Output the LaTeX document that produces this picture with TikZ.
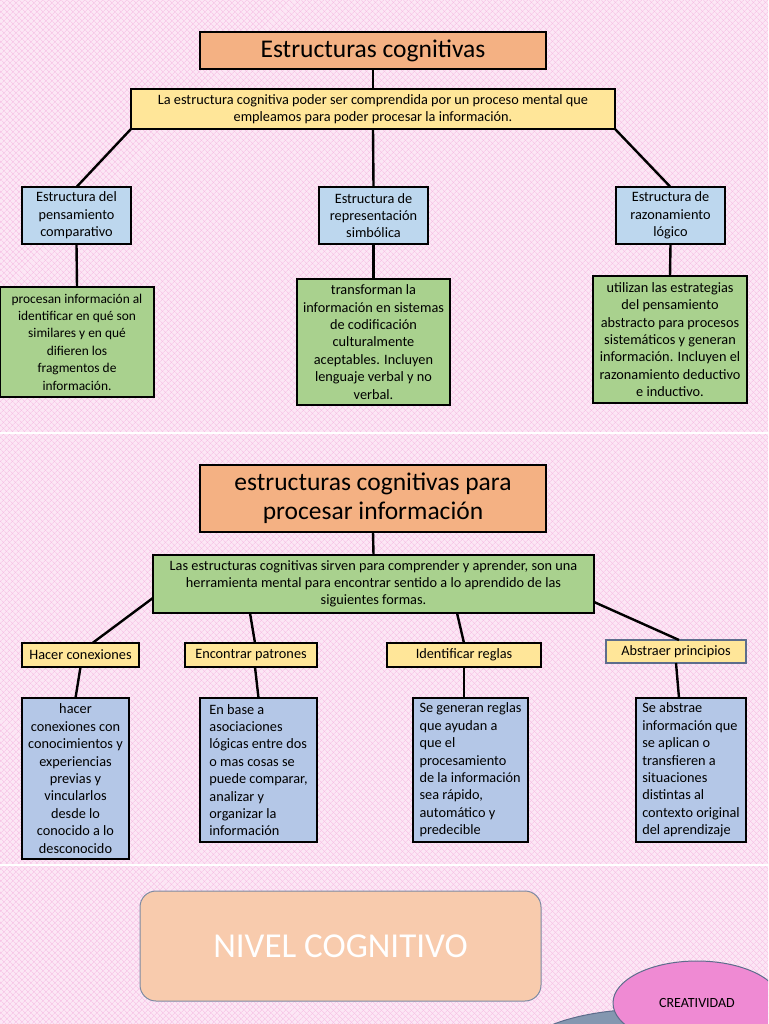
\documentclass[tikz,border=0pt]{standalone}
\usepackage{fontspec}
\setmainfont{Carlito}
\usetikzlibrary{positioning,calc,shapes.geometric,patterns.meta}
\definecolor{cBack}{HTML}{FCE7F5}
\definecolor{cHatch}{HTML}{F6BCE3}
\definecolor{cOrange}{HTML}{F4B183}
\definecolor{cYellow}{HTML}{FFE699}
\definecolor{cSky}{HTML}{BDD7EE}
\definecolor{cGreen}{HTML}{A9D18E}
\definecolor{cBlue}{HTML}{B4C7E7}
\definecolor{cPeach}{HTML}{F8CBAD}
\definecolor{cPink}{HTML}{EF8AD3}
\definecolor{cSlate}{HTML}{8497B0}
\definecolor{cEdge}{HTML}{5D6D8C}
\tikzset{LINE/.style={line width=2.4pt, black}}
\tikzset{BOX/.style={rectangle, draw=black, line width=2.2pt, inner sep=0pt, outer sep=0pt, align=center, text=black, font=\fontsize{14.3}{17.4}\selectfont}}
\tikzset{TITLE/.style={BOX, fill=cOrange, font=\fontsize{25.5}{29}\selectfont}}
\tikzset{SUMMARY/.style={BOX, font=\fontsize{14.3}{17}\selectfont}}
\tikzset{BRANCH/.style={BOX, fill=cSky}}
\tikzset{DETAIL/.style={BOX, fill=cGreen}}
\tikzset{LABEL/.style={BOX, fill=cYellow}}
\tikzset{NOTE/.style={BOX, fill=cBlue}}

\begin{document}
\begin{tikzpicture}[x=1pt,y=-1pt]
    \useasboundingbox (0,0) rectangle (768,1024);
    \clip (0,0) rectangle (768,1024);
    % background
    \fill[cBack] (0,0) rectangle (768,1024);
    \fill[pattern={Lines[angle=45,distance=4pt,line width=0.5pt]}, pattern color=cHatch] (0,0) rectangle (768,1024);
    \fill[pattern={Lines[angle=-45,distance=4pt,line width=0.5pt]}, pattern color=cHatch] (0,0) rectangle (768,1024);
    \draw[white, line width=1.2pt] (0,433) -- (768,433);
    \draw[white, line width=1.2pt] (0,865) -- (768,865);

    % first map
    \node[TITLE, minimum width=346, minimum height=37] (n_title1) at (373,50.5) {Estructuras cognitivas};
    \node[SUMMARY, fill=cYellow, minimum width=484, minimum height=40] (n_sum1) at (373,109) {
        La estructura cognitiva poder ser comprendida por un proceso mental que\\
        empleamos para poder procesar la información.};

    \node[BRANCH, minimum width=109, minimum height=57] (n_b1) at (76.5,215.5) {Estructura del\\pensamiento\\comparativo};
    \node[BRANCH, minimum width=109, minimum height=57] (n_b2) at (373.5,215.5) {Estructura de\\representación\\simbólica};
    \node[BRANCH, minimum width=109, minimum height=57] (n_b3) at (670.5,215.5) {Estructura de\\razonamiento\\lógico};

    \node[DETAIL, font=\fontsize{13.4}{17.4}\selectfont, minimum width=154, minimum height=110] (n_g1) at (77,342) {
        procesan información al\\identificar en qué son\\similares y en qué\\difieren los\\fragmentos de\\información.};
    \node[DETAIL, minimum width=153, minimum height=126] (n_g2) at (373.5,342) {
        transforman la\\información en sistemas\\de codificación\\culturalmente\\aceptables. Incluyen\\lenguaje verbal y no\\verbal.};
    \node[DETAIL, minimum width=154, minimum height=127] (n_g3) at (670,339.5) {
        utilizan las estrategias\\del pensamiento\\abstracto para procesos\\sistemáticos y generan\\información. Incluyen el\\razonamiento deductivo\\e inductivo.};

    \draw[LINE] (n_title1.south) -- (n_sum1.north);
    \draw[LINE] (n_sum1.south west) -- (n_b1.north);
    \draw[LINE] (n_sum1.south) -- (n_b2.north);
    \draw[LINE] (n_sum1.south east) -- (n_b3.north);
    \draw[LINE] (n_b1.south) -- (n_g1.north);
    \draw[LINE] (n_b2.south) -- (n_g2.north);
    \draw[LINE] (n_b3.south) -- (n_g3.north);

    % second map
    \node[TITLE, minimum width=346, minimum height=67] (n_title2) at (373,498.5) {estructuras cognitivas para\\procesar información};
    \node[SUMMARY, fill=cGreen, minimum width=441, minimum height=58] (n_sum2) at (373.5,584) {
        Las estructuras cognitivas sirven para comprender y aprender, son una\\
        herramienta mental para encontrar sentido a lo aprendido de las\\
        siguientes formas.};

    \node[LABEL, minimum width=117, minimum height=24] (n_lab1) at (80.5,655) {Hacer conexiones};
    \node[LABEL, minimum width=132, minimum height=24] (n_lab2) at (251,655) {Encontrar patrones};
    \node[LABEL, minimum width=154, minimum height=24] (n_lab3) at (464,655) {Identificar reglas};
    \node[LABEL, draw=cEdge, line width=1.4pt, minimum width=140, minimum height=23] (n_lab4) at (676,651.5) {Abstraer principios};

    \node[NOTE, minimum width=107, minimum height=161] (n_d1) at (75.5,778.5) {
        hacer\\conexiones con\\conocimientos y\\experiencias\\previas y\\vincularlos\\desde lo\\conocido a lo\\desconocido};
    \node[NOTE, align=left, minimum width=117, minimum height=144] (n_d2) at (258.5,770) {
        En base a\\asociaciones\\lógicas entre dos\\o mas cosas se\\puede comparar,\\analizar y\\organizar la\\información};
    \node[NOTE, align=left, minimum width=115, minimum height=144] (n_d3) at (470.5,770) {
        Se generan reglas\\que ayudan a\\que el\\procesamiento\\de la información\\sea rápido,\\automático y\\predecible};
    \node[NOTE, align=left, minimum width=110, minimum height=144] (n_d4) at (691,770) {
        Se abstrae\\información que\\se aplican o\\transfieren a\\situaciones\\distintas al\\contexto original\\del aprendizaje};

    \draw[LINE] (n_title2.south) -- (n_sum2.north);
    \draw[LINE] ($(n_sum2.south west)!0.26!(n_sum2.north west)$) -- ($(n_lab1.north)+(12,0)$);
    \draw[LINE] ($(n_sum2.south west)+(97,0)$) -- ($(n_lab2.north)+(4,0)$);
    \draw[LINE] ($(n_sum2.south west)+(304,0)$) -- (n_lab3.north);
    \draw[LINE] ($(n_sum2.south east)!0.19!(n_sum2.north east)$) -- ($(n_lab4.north)+(3,0)$);
    \draw[LINE] (n_lab1.south) -- (n_d1.north);
    \draw[LINE] ($(n_lab2.south)+(4,0)$) -- (n_d2.north);
    \draw[LINE] (n_lab3.south) -- (n_lab3.south |- n_d3.north);
    \draw[LINE] (n_lab4.south) -- ($(n_lab4.south |- n_d4.north)+(3,0)$);

    % third part
    \node[rectangle, rounded corners=16pt, fill=cPeach, draw=cEdge!80, line width=1pt, minimum width=401, minimum height=110,
        text=white, font=\fontsize{35}{40}\selectfont] (n_level) at (340.5,946) {NIVEL COGNITIVO};
    \node[ellipse, fill=cSlate, draw=cEdge, line width=1pt, minimum width=260, minimum height=92] (n_grey) at (650,1055) {};
    \node[ellipse, fill=cPink, draw=cEdge, line width=1pt, minimum width=168, minimum height=84,
        text=black, font=\fontsize{14}{16}\selectfont] (n_creat) at (697,1003) {CREATIVIDAD};
\end{tikzpicture}
\end{document}
